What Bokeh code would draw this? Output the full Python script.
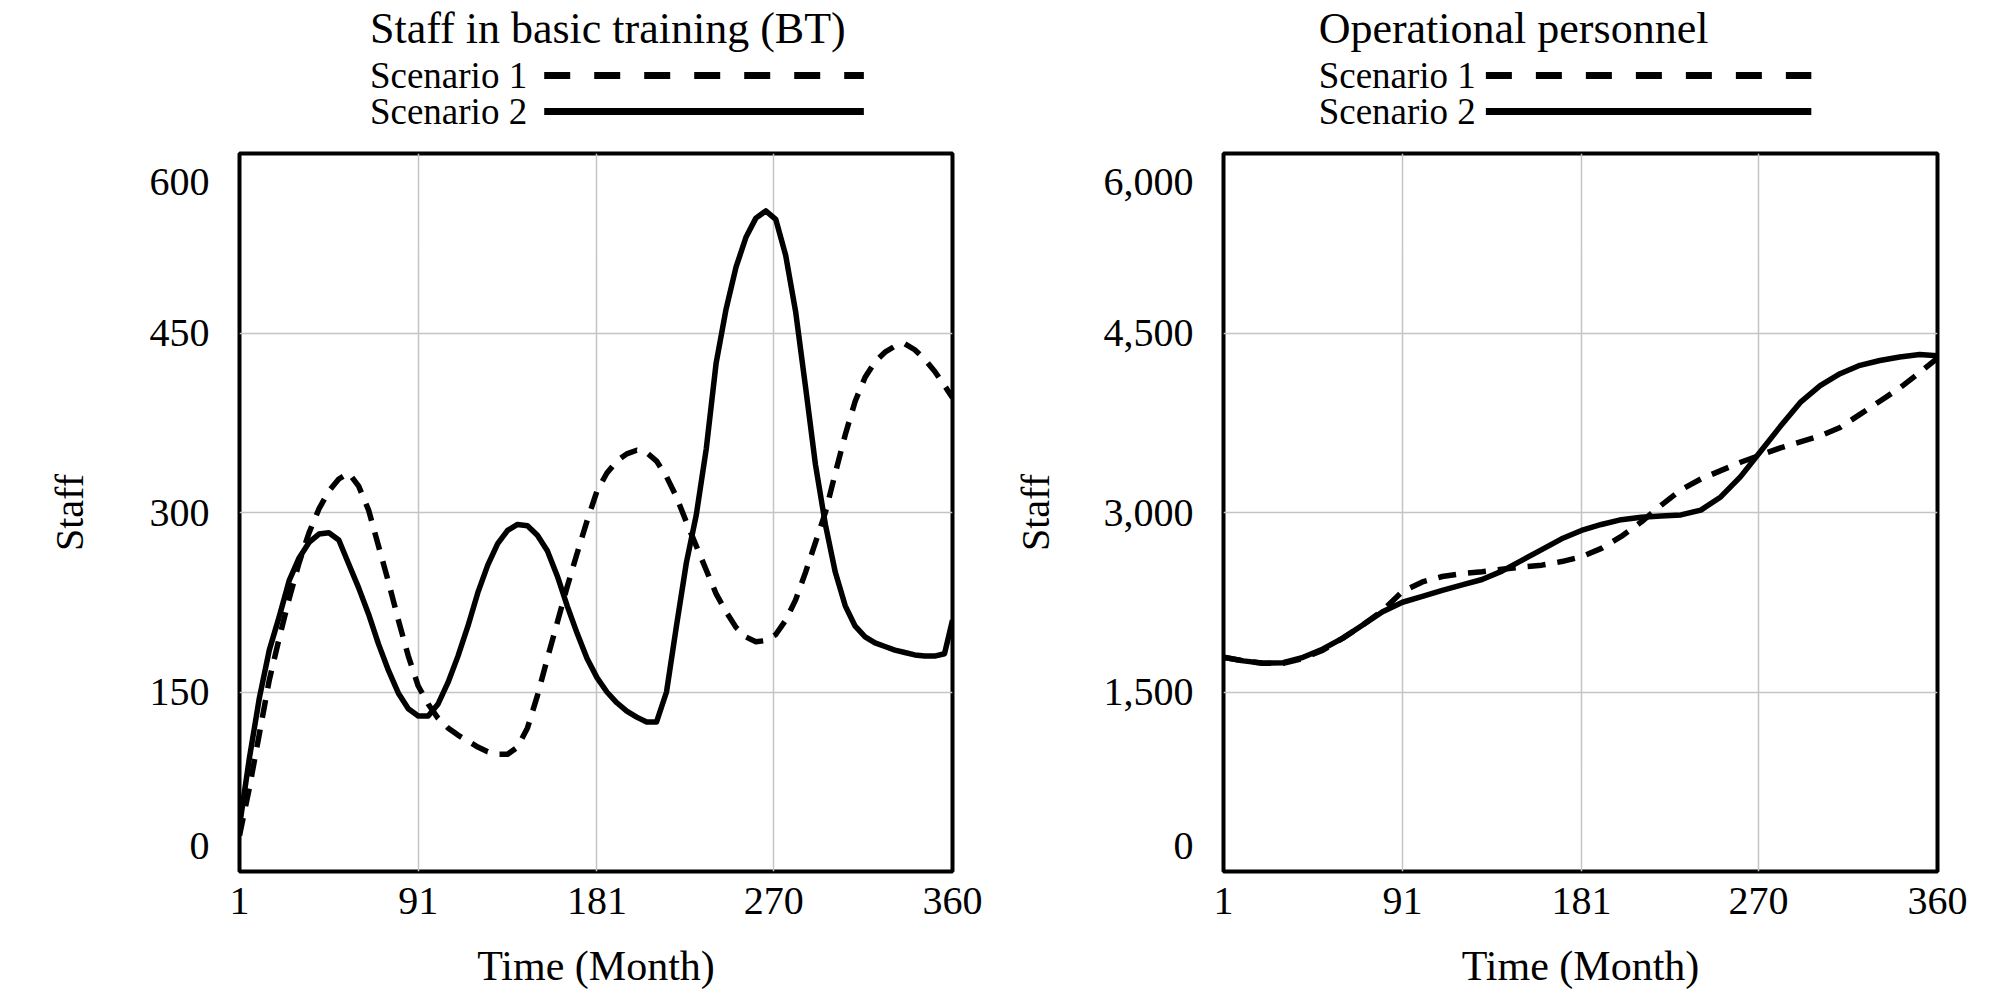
from bokeh.plotting import figure
from bokeh.layouts import row, column
from bokeh.models import Range1d, FixedTicker, NumeralTickFormatter
from bokeh.core.properties import value
from bokeh.embed import file_html
from bokeh.resources import INLINE

SERIF = "Liberation Serif"

# ---- Staff in basic training (BT) ----
bt_title = "Staff in basic training (BT)"
bt_months = [1, 6, 11, 16, 21, 26, 31, 36, 41, 46, 51, 56, 61, 66, 71, 76, 81, 86, 91, 96,
             101, 106, 111, 116, 121, 126, 131, 136, 141, 146, 151, 156, 161, 166, 171, 176,
             181, 186, 191, 196, 201, 206, 211, 216, 221, 226, 231, 236, 241, 246, 251, 256,
             261, 266, 271, 276, 281, 286, 291, 296, 301, 306, 311, 316, 321, 326, 331, 336,
             341, 346, 351, 356, 360]
bt_scenario1 = [30, 70, 115, 160, 195, 228, 258, 283, 303, 318, 328, 333, 322, 302, 272, 242,
                210, 180, 155, 140, 128, 120, 114, 109, 104, 100, 98, 98, 104, 120, 147, 178,
                208, 238, 266, 293, 318, 333, 343, 349, 352, 350, 343, 330, 313, 292, 272, 252,
                232, 217, 204, 196, 192, 193, 198, 210, 227, 250, 275, 300, 333, 365, 393, 413,
                426, 434, 439, 441, 436, 428, 418, 406, 396]
bt_scenario2 = [38, 95, 145, 185, 213, 243, 262, 275, 282, 283, 277, 257, 237, 215, 190, 168,
                149, 136, 130, 130, 140, 158, 180, 205, 233, 256, 274, 285, 290, 289, 281, 268,
                247, 222, 199, 178, 162, 150, 141, 134, 129, 125, 125, 150, 205, 258, 298, 353,
                425, 470, 505, 530, 546, 552, 545, 515, 468, 405, 340, 290, 250, 222, 205, 196,
                191, 188, 185, 183, 181, 180, 180, 182, 210]
bt_yticks = [0, 150, 300, 450, 600]

# ---- Operational personnel ----
op_title = "Operational personnel"
op_months = [1, 11, 21, 31, 41, 51, 61, 71, 81, 91, 101, 111, 121, 131, 141, 151, 161, 171,
             181, 191, 201, 211, 221, 231, 241, 251, 261, 271, 281, 291, 301, 311, 321, 331,
             341, 351, 360]
op_scenario1 = [1790, 1760, 1740, 1740, 1780, 1850, 1950, 2060, 2180, 2340, 2420, 2465, 2490,
                2505, 2525, 2545, 2560, 2590, 2630, 2700, 2800, 2920, 3060, 3190, 3280, 3350,
                3420, 3480, 3540, 3590, 3640, 3710, 3820, 3930, 4040, 4170, 4290]
op_scenario2 = [1790, 1760, 1740, 1745, 1790, 1860, 1950, 2060, 2170, 2250, 2300, 2350, 2395,
                2440, 2510, 2600, 2690, 2780, 2850, 2900, 2940, 2960, 2970, 2980, 3020, 3130,
                3300, 3510, 3720, 3920, 4060, 4160, 4230, 4270, 4300, 4320, 4310]
op_yticks = [0, 1500, 3000, 4500, 6000]

x_ticks = [1, 91, 181, 270, 360]
series_names = ["Scenario 1", "Scenario 2"]
x_label = "Time (Month)"
y_label = "Staff"

HEADER_H = 150
MAIN_H = 857
FRAME_H = 718


def header(frame_left, frame_right, title, text_x, line_x0, line_x1):
    # the header's frame is aligned with the chart frame below it, so the
    # x range is expressed in page pixels across that frame
    h = figure(width=1000, height=HEADER_H, x_range=Range1d(frame_left, frame_right),
               y_range=Range1d(HEADER_H, 0), output_backend="svg",
               toolbar_location=None, min_border=0, x_axis_type=None, y_axis_type=None)
    h.outline_line_color = None
    h.text(x=[text_x], y=[28], text=[title], text_font=value(SERIF),
           text_font_size="44px", text_baseline="middle", text_align="left",
           text_color="black")
    h.text(x=[text_x, text_x], y=[75, 111], text=series_names, text_font=value(SERIF),
           text_font_size="37px", text_baseline="middle", text_align="left",
           text_color="black")
    h.line([line_x0, line_x1], [75, 75], line_color="black", line_width=7, line_dash="26 24")
    h.line([line_x0, line_x1], [111, 111], line_color="black", line_width=7)
    return h


def panel(width, bl, br, months, s1, s2, yticks, ylab_standoff, thousands):
    ymin, ymax = yticks[0], yticks[-1]
    p = figure(width=width, height=MAIN_H, x_range=Range1d(1, 360), y_range=Range1d(ymin, ymax),
               output_backend="svg", toolbar_location=None,
               min_border_left=bl, min_border_right=br, min_border_top=3, min_border_bottom=136)
    p.outline_line_color = "black"
    p.outline_line_width = 4

    # the end labels of the value axis are drawn just inside the frame
    # (about 29 px below the top and 25 px above the bottom)
    per_px = (ymax - ymin) / FRAME_H
    top_pos = round(ymax - 29 * per_px)
    bottom_pos = round(ymin + 25 * per_px)
    fmt = (lambda v: f"{v:,}") if thousands else (lambda v: str(v))
    p.xaxis.ticker = FixedTicker(ticks=x_ticks)
    p.yaxis.ticker = FixedTicker(ticks=[bottom_pos] + yticks[1:-1] + [top_pos])
    p.yaxis.major_label_overrides = {bottom_pos: fmt(ymin), top_pos: fmt(ymax)}
    if thousands:
        p.yaxis.formatter = NumeralTickFormatter(format="0,0")
    p.xgrid.ticker = FixedTicker(ticks=x_ticks)
    p.ygrid.ticker = FixedTicker(ticks=yticks)
    p.grid.grid_line_color = "#c4c4c4"
    p.grid.grid_line_width = 1.5

    for ax in (p.xaxis, p.yaxis):
        ax.axis_line_color = None
        ax.major_tick_line_color = None
        ax.minor_tick_line_color = None
        ax.major_label_text_font = SERIF
        ax.major_label_text_font_size = "40px"
        ax.major_label_text_color = "black"
        ax.axis_label_text_font = SERIF
        ax.axis_label_text_font_style = "normal"
        ax.axis_label_text_color = "black"
    p.xaxis.major_label_standoff = 10
    p.xaxis.axis_label = x_label
    p.xaxis.axis_label_text_font_size = "42px"
    p.xaxis.axis_label_standoff = 26
    p.yaxis.axis_label = y_label
    p.yaxis.axis_label_text_font_size = "40px"
    p.yaxis.axis_label_standoff = ylab_standoff
    p.yaxis.major_label_standoff = 24

    p.line(months, s1, line_color="black", line_width=5.5, line_dash="18 12",
           line_join="round")
    p.line(months, s2, line_color="black", line_width=5.5, line_join="round")
    return p


hl = header(239, 952, bt_title, 370, 545, 866)
hr = header(1223, 1937, op_title, 1318, 1485, 1810)
pl = panel(1003, 239, 51, bt_months, bt_scenario1, bt_scenario2, bt_yticks, 55, False)
pr = panel(999, 220, 65, op_months, op_scenario1, op_scenario2, op_yticks, 43, True)

layout = row(column(hl, pl), column(hr, pr))
open("out.html", "w").write(file_html(layout, INLINE))
